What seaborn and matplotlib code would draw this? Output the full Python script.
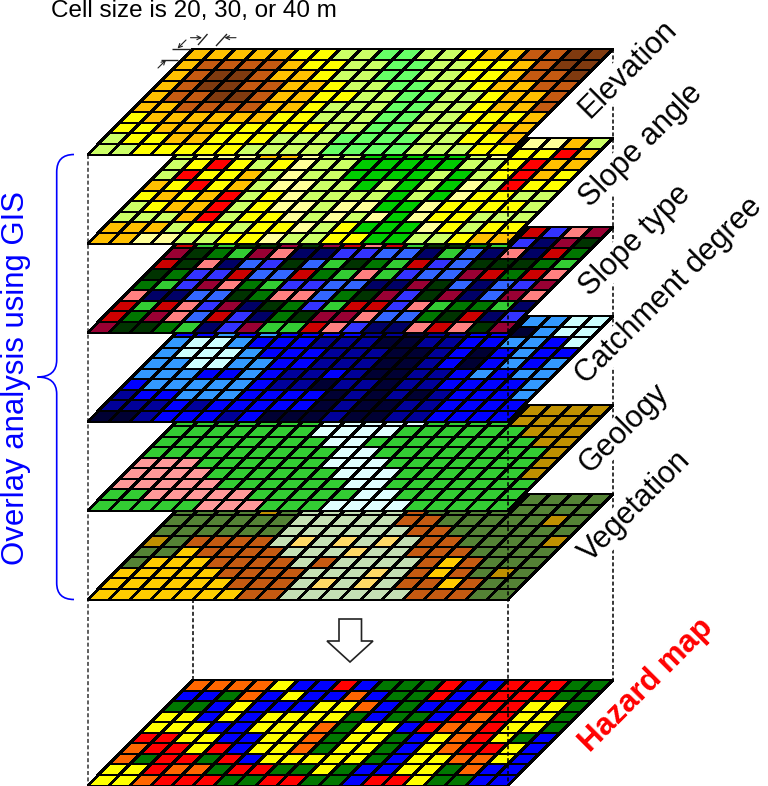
import numpy as np
import matplotlib
matplotlib.use("Agg")
import matplotlib.pyplot as plt
from matplotlib.colors import ListedColormap
from matplotlib.patches import PathPatch, Polygon
from matplotlib.path import Path
from matplotlib.transforms import Affine2D
import seaborn as sns

# ---- data: one string per grid row (back to front), one letter per cell ----
ELEVATION = [
    "OOOOOYYLLGGLLYOOBBDD", "OBBBBOYYLLGGLLYYOBDD", "OBDDBOOYLLGGLLYYOBBD",
    "OBDDBBOOYLLGGLLYOOBB", "OBBDDBOOYYLLGGLLYOOB", "OOBBBBOOYLLLGGLLYOOB",
    "YOOOOOOYYLLLGGLLYYYO", "YYOOOYYYYYLLGGLLLYOO", "LYYOOYYYLLLGGGGLLYYO",
    "LLYYYYYLLLLGGGGLLLYY",
]
SLOPE_ANGLE = [
    "LLPPOOPLLLGGGGLLPPOL", "LPPPOOPLLGGGGGLPYYRO", "LYRYLYPLLGGGGGLLYROO",
    "LRYYOLPLLGGGGLGLYROY", "OYRYOLPPLLGLGLGPLRYY", "YOYORLYPLLLLGLGPYYLL",
    "LYOORLYPPLPPGGPYYYYL", "LLLORLYYPLPLPGPYYLLL", "OOOLYYLYYPLYGGGPYLYY",
    "OOPPLLYYPLLYYGGLLYOO",
]
SLOPE_TYPE = [
    "RFFKKAKAARPRFKKPRBPA", "RFFKKAKARPRFKKEFBNAK", "AKEFAPNNBBCCNFCNPNRE",
    "RKPNCBKCFKEFRBCKKKEF", "KEBBRCCREFPFBCCARERP", "EFBAPEFBBCCNNAKCNCBA",
    "PNNCCKEPPCEKABKANCAP", "RFRPBANKEBFRRBPFEEFN", "REAPCRBNEKAAPCCEKRNB",
    "AKKEFNBAFFRPBNNPRPKA",
]
CATCHMENT = [
    "BBSBSBBBBDDDBBDBSSWW", "BBSBSBBBBDDNDDBBNSWW", "SWWSBBBDDDNNDDBBSSBW",
    "SWWWSBBBDDDNNDBNBSBB", "SSWWSSBBDDDNNDBNBSBS", "SSSBBSBDDBDNNDDBSBSS",
    "BSSSSSBDDNDDNDDBBBBS", "DBBSSSBBBBNDNDNDBBBS", "DDDBDBBBBBNDNNDDBBBB",
    "NNDBBBDBNNNDNNDDBBBB",
]
GEOLOGY = [
    "FFFFFFFWWWWWFFFFTTTT", "FFFFFFFWWWWWFFFFTTTT", "FFFFFFFWWWWFFFFFFTTT",
    "FFFFFFFFWWFFFFFFFFTT", "FFFFFFFFFWWFFFFFFFFT", "PPPFFFFFFWWWFFFFFFFT",
    "PPPPFFFFFFWWWFFFFFFT", "PPPPPFFFFFFWWFFFFFFF", "FFPPPPPFFFFFWWFFFFFF",
    "FFFFFPPPFFFWWWWFFFFF",
]
VEGETATION = [
    "VVVVTVCCCCCOVVVVVVVV", "VVVVTVCCCCCOVVVVVVVV", "VVVVVVCCCCCOOVVVVVTV",
    "VVVVVVCCCCCCOOVVVVVV", "TVOOOOCLCLCLCOOVVVVT", "VVYOOOOCCCLCCOOOVVVV",
    "VYYYOOOOCOCCCCOYOVVV", "YYYYYOOOOCCCLCOYOVTV", "YYYYYYOOOCLCLCOOYOVV",
    "YYYYYYYOOCCCCCCOOOVV",
]
HAZARD = [
    "OOOOYBBRBGGGRBBRRRGG", "BBGOBYBBOBGGRBRRRRGG", "GGBYBBBYYOBGBBRRRYYG",
    "YYBYBYYYYGBGGBRORYYG", "YYYBBYYYOGYYBROORYYG", "RRYYBBYYOGYYGBYORYGB",
    "ORRYRBYYOGYYGBYORRYB", "OGRRGRBYYYYYGBYYOOYB", "YYROOGRRGGYGBBYYGOBB",
    "YYORRRGGRRGGBRRYGGBB",
]

ELEVATION_COLORS = {"D": "#7F3A0F", "B": "#C55A11", "O": "#FFC000", "Y": "#FFFF00", "L": "#CCFF66", "G": "#66FF66"}
ANGLE_COLORS = {"R": "#FF0000", "O": "#FFC000", "Y": "#FFFF00", "P": "#FFFF99", "L": "#CCFF66", "G": "#00CC00"}
TYPE_COLORS = {"A": "#990033", "R": "#CC0000", "P": "#FF8080", "N": "#000066", "B": "#3333FF",
               "C": "#3366FF", "K": "#003300", "E": "#007700", "F": "#33CC33"}
CATCHMENT_COLORS = {"W": "#CCFFFF", "S": "#3399FF", "B": "#0000FF", "D": "#000099", "N": "#000033"}
GEOLOGY_COLORS = {"F": "#33CC33", "W": "#E0FFFF", "P": "#FF9999", "T": "#BF9000"}
VEGETATION_COLORS = {"V": "#548235", "O": "#C55A11", "C": "#C5E0B4", "Y": "#FFCC00", "T": "#BF9000", "L": "#FFD966"}
HAZARD_COLORS = {"O": "#FF6600", "Y": "#FFFF00", "B": "#0000FF", "G": "#007700", "R": "#FF0000"}

LAYERS = [
    (ELEVATION, ELEVATION_COLORS), (SLOPE_ANGLE, ANGLE_COLORS), (SLOPE_TYPE, TYPE_COLORS),
    (CATCHMENT, CATCHMENT_COLORS), (GEOLOGY, GEOLOGY_COLORS), (VEGETATION, VEGETATION_COLORS),
    (HAZARD, HAZARD_COLORS),
]
LAYER_NAMES = ["Elevation", "Slope angle", "Slope type", "Catchment degree", "Geology", "Vegetation"]
TITLE = "Cell size is 20, 30, or 40 m"
GROUP_LABEL = "Overlay analysis using GIS"
RESULT_LABEL = "Hazard map"

# ---- layout (pixels) ----
LAYER_TOPS = [49, 138, 227, 316, 405, 494, 680]
LABEL_CENTERS = [(628, 69), (641, 146), (635, 241), (669, 291), (624, 428), (635, 507)]
X_TOP_LEFT, CELL_W, SHEAR, CELL_H = 192.5, 21.0, 10.47, 10.55

sns.set_theme(style="white")
plt.rcParams["font.family"] = ["Liberation Sans", "DejaVu Sans"]

fig = plt.figure(figsize=(7.68, 7.86), dpi=100)
ax = fig.add_axes([0, 0, 1, 1])

for i, ((rows, colors), top) in enumerate(zip(LAYERS, LAYER_TOPS)):
    keys = list(colors)
    codes = np.array([[keys.index(c) for c in r] for r in rows])
    sns.heatmap(codes, ax=ax, cmap=ListedColormap([colors[k] for k in keys]),
                vmin=-0.5, vmax=len(keys) - 0.5, cbar=False, linewidths=1.15,
                linecolor="black", xticklabels=False, yticklabels=False)
    mesh = ax.collections[-1]
    cell_to_px = Affine2D(np.array([[CELL_W, -SHEAR, X_TOP_LEFT],
                                    [0.0, CELL_H, top],
                                    [0.0, 0.0, 1.0]]))
    mesh.set_transform(cell_to_px + ax.transData)
    mesh.set_zorder(20 - i)

ax.set_xlim(0, 768)
ax.set_ylim(786, 0)
ax.axis("off")

# dashed guides
dash = dict(color="black", lw=1.1, dashes=(2.6, 1.6))
ax.plot([87.7, 87.7], [155, 785], zorder=1, color="#333333", lw=1.1, dashes=(2.6, 1.6))
ax.plot([612.5, 612.5], [49, 680], zorder=1, **dash)
ax.plot([193, 193], [599, 680], zorder=1, **dash)
ax.plot([507.7, 507.7], [155, 785], zorder=30, **dash)

# layer names (white boxes interrupt the dashed guide, as in the source figure)
for name, (cx, cy) in zip(LAYER_NAMES, LABEL_CENTERS):
    ax.text(cx, cy, name, rotation=45, ha="center", va="center", fontsize=22, color="black",
            zorder=2, bbox=dict(facecolor="white", edgecolor="none", pad=0))
ax.text(646, 685, RESULT_LABEL, rotation=45, ha="center", va="center", fontsize=22.3,
        color="#FF0000", fontweight="bold", zorder=2,
        bbox=dict(facecolor="white", edgecolor="none", pad=0))
ax.text(194, 11, TITLE, ha="center", va="center", fontsize=17.5, color="black", zorder=40)
ax.text(16, 378, GROUP_LABEL, rotation=90, ha="center", va="center", fontsize=22.4,
        color="#0000FF", zorder=40)

# brace
MOVE, LINE, CURVE = Path.MOVETO, Path.LINETO, Path.CURVE3
brace = Path([(74, 154.5), (56.7, 154.5), (56.7, 172), (56.7, 360), (56.7, 377), (37.5, 377),
              (56.7, 377), (56.7, 394), (56.7, 583), (56.7, 599.5), (74, 599.5)],
             [MOVE, CURVE, CURVE, LINE, CURVE, CURVE, CURVE, CURVE, LINE, CURVE, CURVE])
ax.add_patch(PathPatch(brace, fill=False, edgecolor="#0000FF", lw=1.2, zorder=40))

# hollow down arrow
ax.add_patch(Polygon([(339, 619), (361.5, 619), (361.5, 641), (373, 641), (350, 662),
                      (327, 641), (339, 641)], closed=True, facecolor="white",
                     edgecolor="#222222", lw=1.2, zorder=40))

# cell-size marks
for (x0, y0, x1, y1) in [(172, 49, 191, 49), (161, 59.5, 178, 59.5),
                         (198, 45, 207.5, 34), (216, 46, 227, 34)]:
    ax.plot([x0, x1], [y0, y1], color="#222222", lw=1.0, zorder=40, solid_capstyle="butt")
for (tail, tip) in [((186, 40), (177.5, 48.5)), ((158, 68), (166, 60)),
                    ((190.5, 37.7), (202, 37.7)), ((236, 37.7), (224.5, 37.7))]:
    ax.annotate("", xy=tip, xytext=tail, zorder=40,
                arrowprops=dict(arrowstyle="->", color="#222222", lw=0.8, mutation_scale=7,
                                shrinkA=0, shrinkB=0))

fig.savefig("out.png", dpi=100, facecolor="white")
